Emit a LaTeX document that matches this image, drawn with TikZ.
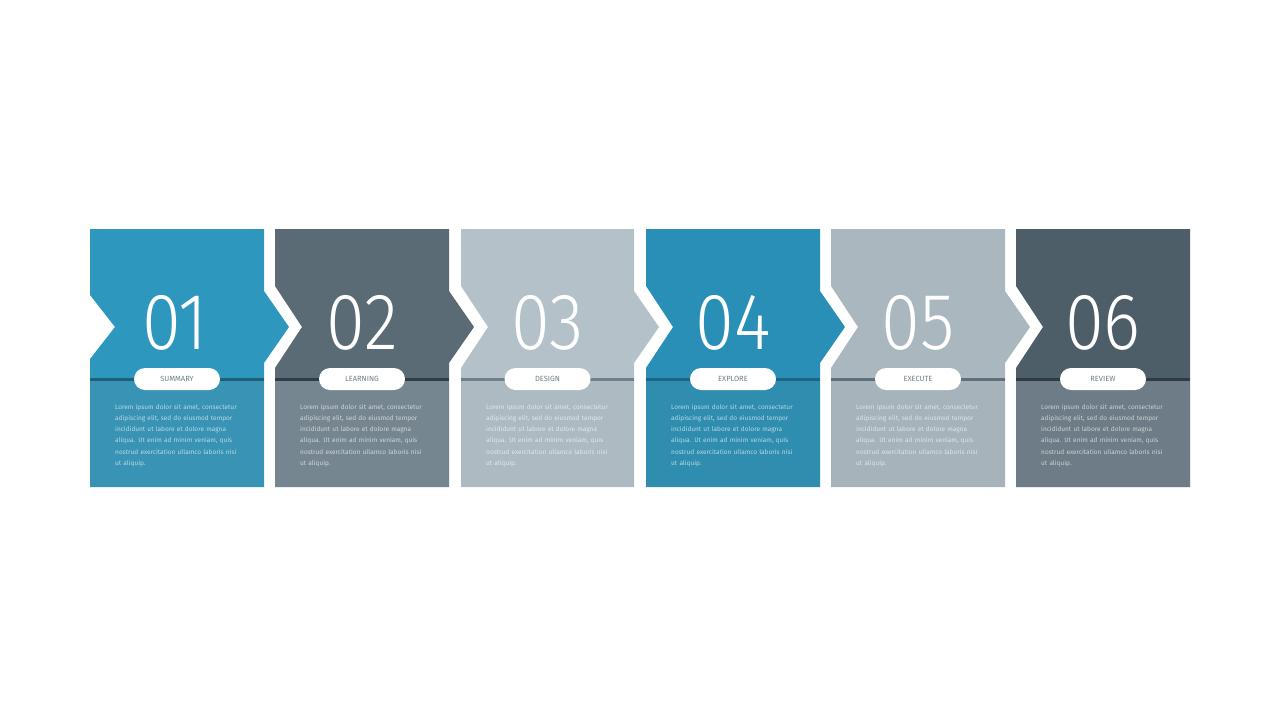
\documentclass[tikz,border=0pt]{standalone}
\usepackage{fontspec}
\usepackage{graphicx}
\setmainfont{Fira Sans}
\IfFontExistsTF{Fira Sans Light}{\newfontfamily\numfont{Fira Sans Light}}{%
 \IfFontExistsTF{FiraSans-Light}{\newfontfamily\numfont{FiraSans-Light}}{%
  \IfFontExistsTF{Lato Light}{\newfontfamily\numfont{Lato Light}}{%
   \newfontfamily\numfont{Fira Sans}}}}
\definecolor{tA}{HTML}{2D97BD}\definecolor{bA}{HTML}{3893B5}\definecolor{lA}{HTML}{1F5F78}
\definecolor{tB}{HTML}{5B6B75}\definecolor{bB}{HTML}{768690}\definecolor{lB}{HTML}{2F3D45}
\definecolor{tC}{HTML}{B4C1C9}\definecolor{bC}{HTML}{ADBAC2}\definecolor{lC}{HTML}{6F8089}
\definecolor{tD}{HTML}{2A8FB6}\definecolor{bD}{HTML}{2F8DB0}\definecolor{lD}{HTML}{1D6585}
\definecolor{tE}{HTML}{AAB7BF}\definecolor{bE}{HTML}{A6B3BB}\definecolor{lE}{HTML}{5F707A}
\definecolor{tF}{HTML}{4E5E68}\definecolor{bF}{HTML}{6D7C86}\definecolor{lF}{HTML}{2E3B43}
\definecolor{pilltext}{HTML}{6F808A}
\tikzset{
  numlabel/.style={text=white, font=\numfont\fontsize{80}{80}\selectfont, xscale=0.88, anchor=center, inner sep=0pt},
  pill/.style={fill=white, rounded corners=11pt, minimum width=86pt, minimum height=22pt, inner sep=0pt, text=pilltext, font=\fontsize{7.5}{7.5}\selectfont},
  bodytext/.style={text=white, text opacity=0.65, font=\fontsize{6.5}{11.2}\selectfont, text width=124pt, align=left, anchor=north west, inner sep=0pt}
}
\begin{document}
\begin{tikzpicture}[x=1pt,y=-1pt]
\useasboundingbox (0,0) rectangle (1280,720);
\fill[white] (0,0) rectangle (1280,720);
\newcommand{\panelstep}[9]{%
 % #1 L, #2 R, #3 top colour, #4 bottom colour, #5 line colour, #6 number, #7 label, #8 arrow (1/0), #9 name
 \pgfmathsetmacro{\Lx}{#1}\pgfmathsetmacro{\Rx}{#2}
 \ifnum#8=1
   \fill[#3] (\Lx,229) -- (\Rx,229) -- (\Rx,291) -- (\Rx+25,327) -- (\Rx,363) -- (\Rx,487) -- (\Lx,487) -- (\Lx,368) -- (\Lx+27,327) -- (\Lx,286) -- cycle;
 \else
   \fill[#3] (\Lx,229) -- (\Rx,229) -- (\Rx,487) -- (\Lx,487) -- (\Lx,368) -- (\Lx+27,327) -- (\Lx,286) -- cycle;
 \fi
 \fill[#4] (\Lx,379) rectangle (\Rx,487);
 \fill[#5] (\Lx,377.5) rectangle (\Rx,380.5);
 \node[numlabel] (num#9) at ({(\Lx+\Rx)/2},323) {#6};
 \node[pill] (pill#9) at ({(\Lx+\Rx)/2},379) {#7};
 \node[bodytext] (body#9) at (\Lx+25,404) {Lorem ipsum dolor sit amet, consectetur adipiscing elit, sed do eiusmod tempor incididunt ut labore et dolore magna aliqua. Ut enim ad minim veniam, quis nostrud exercitation ullamco laboris nisi ut aliquip.};
}
% panel 1 has a smaller notch
\fill[tA] (90,229) -- (264,229) -- (264,291) -- (289,327) -- (264,363) -- (264,487) -- (90,487) -- (90,359) -- (115,327) -- (90,295) -- cycle;
\fill[bA] (90,379) rectangle (264,487);
\fill[lA] (90,377.5) rectangle (264,380.5);
\node[numlabel] (num1) at (175,323) {01};
\node[pill] (pill1) at (177,379) {SUMMARY};
\node[bodytext] (body1) at (115,404) {Lorem ipsum dolor sit amet, consectetur adipiscing elit, sed do eiusmod tempor incididunt ut labore et dolore magna aliqua. Ut enim ad minim veniam, quis nostrud exercitation ullamco laboris nisi ut aliquip.};
\panelstep{275}{449}{tB}{bB}{lB}{02}{LEARNING}{1}{2}
\panelstep{461}{634}{tC}{bC}{lC}{03}{DESIGN}{1}{3}
\panelstep{646}{820}{tD}{bD}{lD}{04}{EXPLORE}{1}{4}
\panelstep{831}{1005}{tE}{bE}{lE}{05}{EXECUTE}{1}{5}
\panelstep{1016}{1190}{tF}{bF}{lF}{06}{REVIEW}{0}{6}
\end{tikzpicture}
\end{document}
